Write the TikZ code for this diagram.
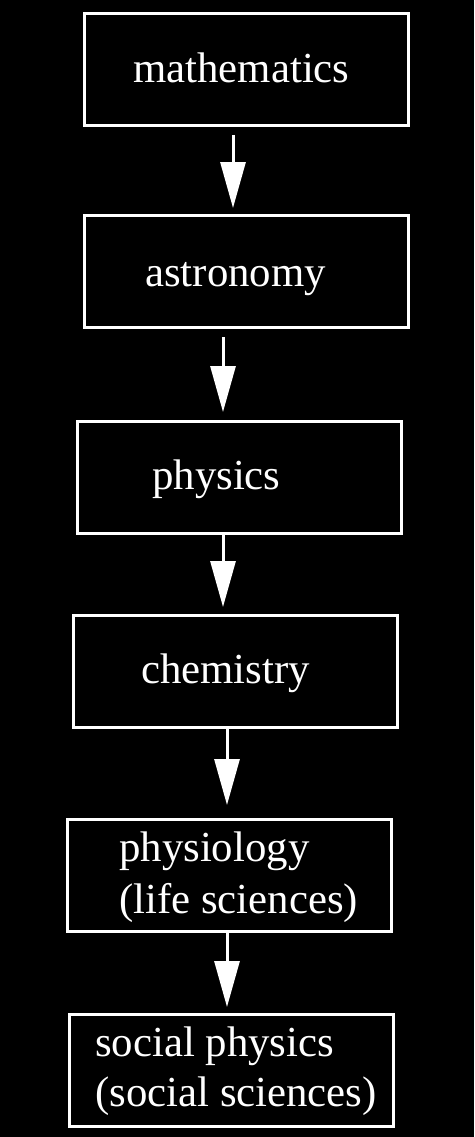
\documentclass[tikz,border=0pt]{standalone}
\usepackage{fontspec}
\setmainfont{Liberation Serif}
\usetikzlibrary{arrows.meta}
\begin{document}
\begin{tikzpicture}[x=1pt,y=1pt,
  boxnode/.style={draw=white,line width=3pt,rectangle,inner sep=0pt,
    minimum width=324pt,minimum height=112pt},
  lbl/.style={text=white,anchor=base west,inner sep=0pt,
    font=\fontsize{42.8}{50}\selectfont},
  arr/.style={draw=white,line width=3pt,
    -{Triangle[length=46pt,width=25pt,fill=white]}}]
\fill[black] (0,0) rectangle (474,-1137);
\useasboundingbox (0,0) rectangle (474,-1137);
% boxes
\node[boxnode] (b1) at (246,-69.5) {};
\node[boxnode] (b2) at (246,-271) {};
\node[boxnode] (b3) at (239.5,-477.5) {};
\node[boxnode] (b4) at (235.5,-671.5) {};
\node[boxnode] (b5) at (229,-875) {};
\node[boxnode] (b6) at (231.5,-1070.5) {};
% labels
\node[lbl] (t1) at (133,-83) {mathematics};
\node[lbl] (t2) at (145,-286) {astronomy};
\node[lbl] (t3) at (152,-489) {physics};
\node[lbl] (t4) at (141,-683) {chemistry};
\node[lbl] (t5a) at (119,-861) {physiology};
\node[lbl] (t5b) at (119,-913) {(life sciences)};
\node[lbl] (t6a) at (95,-1056) {social physics};
\node[lbl] (t6b) at (95,-1106) {(social sciences)};
% arrow end points
\coordinate (a1s) at (233,-135);  \coordinate (a1e) at (233,-208);
\coordinate (a2s) at (223,-337);  \coordinate (a2e) at (223,-412);
\coordinate (a3s) at (223,-533);  \coordinate (a3e) at (223,-607);
\coordinate (a4s) at (227,-727);  \coordinate (a4e) at (227,-805);
\coordinate (a5s) at (227,-931);  \coordinate (a5e) at (227,-1007);
\draw[arr] (a1s) -- (a1e);
\draw[arr] (a2s) -- (a2e);
\draw[arr] (a3s) -- (a3e);
\draw[arr] (a4s) -- (a4e);
\draw[arr] (a5s) -- (a5e);
\end{tikzpicture}
\end{document}
